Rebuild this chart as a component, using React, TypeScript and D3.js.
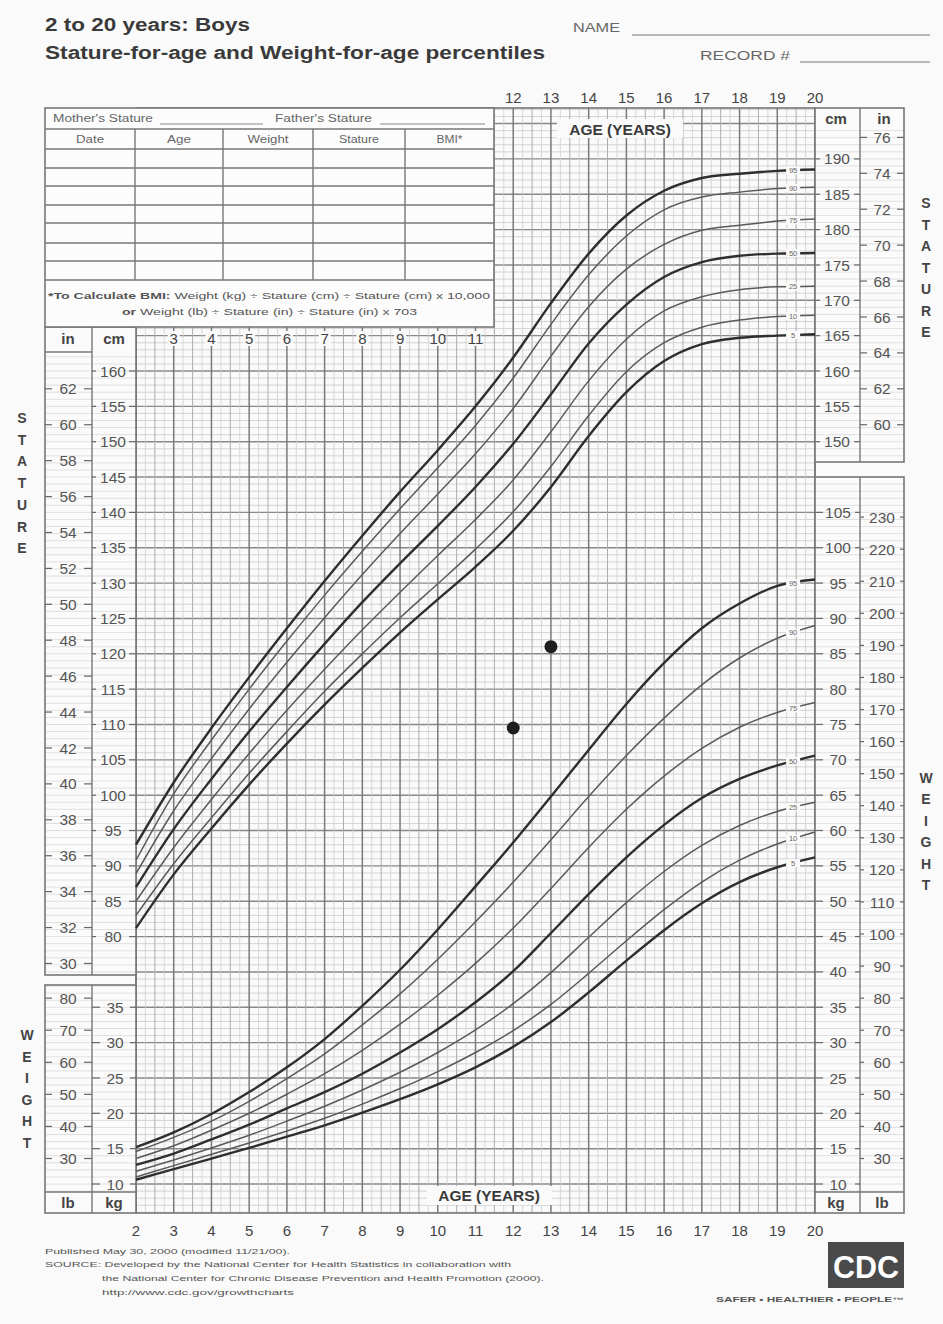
import React from "react";
import * as d3 from "d3";

// ---------- data ----------
const ages = [2, 3, 4, 5, 6, 7, 8, 9, 10, 11, 12, 13, 14, 15, 16, 17, 18, 19, 20];

const statureP5 = [81.2, 88.8, 95.3, 101.5, 107.3, 112.8, 118.0, 123.0, 127.7, 132.3, 137.4, 143.6, 150.8, 157.0, 161.4, 163.8, 164.7, 165.0, 165.2];
const statureP10 = [83.0, 90.3, 96.8, 103.1, 109.0, 114.7, 120.0, 125.1, 129.9, 134.8, 140.1, 146.5, 153.7, 159.9, 164.0, 166.2, 167.2, 167.7, 167.9];
const statureP25 = [85.0, 92.6, 99.4, 105.9, 112.0, 117.8, 123.4, 128.7, 133.9, 139.0, 144.6, 151.4, 158.6, 164.5, 168.5, 170.5, 171.5, 171.9, 172.0];
const statureP50 = [87.0, 95.2, 102.3, 109.0, 115.3, 121.4, 127.3, 132.8, 138.1, 143.6, 149.7, 156.7, 163.9, 169.4, 173.3, 175.4, 176.3, 176.6, 176.7];
const statureP75 = [88.9, 97.8, 105.2, 112.2, 118.8, 125.1, 131.2, 137.0, 142.6, 148.3, 154.7, 162.1, 169.1, 174.4, 177.9, 179.9, 180.6, 181.2, 181.5];
const statureP90 = [90.8, 100.2, 107.8, 115.0, 121.8, 128.3, 134.5, 140.5, 146.3, 152.3, 159.0, 166.6, 173.6, 179.1, 182.8, 184.6, 185.3, 185.8, 186.0];
const statureP95 = [93.0, 101.8, 109.5, 116.7, 123.6, 130.3, 136.7, 142.9, 148.8, 155.0, 161.9, 169.6, 176.6, 182.0, 185.5, 187.3, 187.9, 188.3, 188.5];

const weightP5 = [10.6, 12.1, 13.6, 15.1, 16.7, 18.3, 20.1, 22.0, 24.1, 26.5, 29.4, 32.9, 37.1, 41.6, 45.9, 49.7, 52.7, 54.8, 56.2];
const weightP10 = [11.0, 12.6, 14.2, 15.8, 17.5, 19.3, 21.3, 23.5, 25.9, 28.6, 31.7, 35.4, 39.8, 44.4, 48.8, 52.7, 55.8, 58.1, 59.8];
const weightP25 = [11.8, 13.4, 15.1, 16.9, 18.9, 21.0, 23.3, 25.8, 28.6, 31.8, 35.5, 39.9, 44.9, 49.8, 54.2, 57.9, 60.7, 62.7, 64.0];
const weightP50 = [12.7, 14.3, 16.3, 18.4, 20.7, 23.0, 25.6, 28.6, 31.9, 35.7, 40.1, 45.5, 51.0, 56.2, 60.8, 64.6, 67.3, 69.2, 70.6];
const weightP75 = [13.6, 15.4, 17.6, 20.0, 22.7, 25.6, 28.9, 32.6, 36.7, 41.2, 46.2, 51.8, 57.6, 63.0, 67.7, 71.6, 74.6, 76.7, 78.1];
const weightP90 = [14.6, 16.6, 18.9, 21.7, 24.9, 28.4, 32.5, 36.9, 41.8, 47.1, 52.7, 58.7, 64.8, 70.6, 75.9, 80.6, 84.4, 87.2, 89.0];
const weightP95 = [15.2, 17.3, 19.9, 23.0, 26.5, 30.5, 35.2, 40.3, 46.0, 52.1, 58.3, 64.8, 71.4, 77.9, 83.7, 88.6, 92.1, 94.6, 95.5];

const boldPercentiles = ["95", "50", "5"];

const measurementAges = [12, 13];
const measurementWeights = [74.5, 86.0];

const topAgeLabels = [12, 13, 14, 15, 16, 17, 18, 19, 20];
const upperAgeLabels = [3, 4, 5, 6, 7, 8, 9, 10, 11];
const bottomAgeLabels = [2, 3, 4, 5, 6, 7, 8, 9, 10, 11, 12, 13, 14, 15, 16, 17, 18, 19, 20];

const leftCmTicks = [80, 85, 90, 95, 100, 105, 110, 115, 120, 125, 130, 135, 140, 145, 150, 155, 160];
const leftInTicks = [30, 32, 34, 36, 38, 40, 42, 44, 46, 48, 50, 52, 54, 56, 58, 60, 62];
const rightCmTicks = [150, 155, 160, 165, 170, 175, 180, 185, 190];
const rightInTicks = [60, 62, 64, 66, 68, 70, 72, 74, 76];
const leftKgTicks = [10, 15, 20, 25, 30, 35];
const leftLbTicks = [30, 40, 50, 60, 70, 80];
const rightKgTicks = [10, 15, 20, 25, 30, 35, 40, 45, 50, 55, 60, 65, 70, 75, 80, 85, 90, 95, 100, 105];
const rightLbTicks = [30, 40, 50, 60, 70, 80, 90, 100, 110, 120, 130, 140, 150, 160, 170, 180, 190, 200, 210, 220, 230];

const tableColumns = ["Date", "Age", "Weight", "Stature", "BMI*"];

// ---------- layout ----------
const W = 943;
const H = 1324;
const FONT = "'Liberation Sans', Arial, Helvetica, sans-serif";
const GRIDX0 = 136;
const GRIDX1 = 815;
const TOP = 108;
const BOTTOM = 1213;

const x = d3.scaleLinear().domain([2, 20]).range([GRIDX0, GRIDX1]);
const yCm = d3.scaleLinear().domain([80, 160]).range([371 + 80 * 7.07, 371]);
const yKg = d3.scaleLinear().domain([10, 105]).range([1184, 1184 - 95 * 7.07]);
const inToCm = (v: number) => v * 2.54;
const lbToKg = (v: number) => v / 2.20462;

type Series = { name: string; values: number[] };
const statureSeries: Series[] = [
  { name: "95", values: statureP95 },
  { name: "90", values: statureP90 },
  { name: "75", values: statureP75 },
  { name: "50", values: statureP50 },
  { name: "25", values: statureP25 },
  { name: "10", values: statureP10 },
  { name: "5", values: statureP5 },
];
const weightSeries: Series[] = [
  { name: "95", values: weightP95 },
  { name: "90", values: weightP90 },
  { name: "75", values: weightP75 },
  { name: "50", values: weightP50 },
  { name: "25", values: weightP25 },
  { name: "10", values: weightP10 },
  { name: "5", values: weightP5 },
];

function interpAt(values: number[], age: number) {
  const i = Math.min(ages.length - 2, Math.max(0, Math.floor(age - ages[0])));
  const t = age - ages[i];
  return values[i] + (values[i + 1] - values[i]) * t;
}

function Curves({ series, y }: { series: Series[]; y: d3.ScaleLinear<number, number> }) {
  const line = d3
    .line<[number, number]>()
    .x((d) => x(d[0]))
    .y((d) => y(d[1]))
    .curve(d3.curveMonotoneX);
  const labelAge = 19.42;
  return (
    <g>
      {series.map((s) => {
        const bold = boldPercentiles.includes(s.name);
        const pts = ages.map((a, i) => [a, s.values[i]] as [number, number]);
        return (
          <path
            key={s.name}
            d={line(pts) || ""}
            fill="none"
            stroke={bold ? "#2e2e2e" : "#5a5a5a"}
            strokeWidth={bold ? 2.4 : 1.5}
          />
        );
      })}
      {series.map((s) => {
        const yy = y(interpAt(s.values, labelAge));
        const xx = x(labelAge);
        return (
          <g key={"l" + s.name}>
            <rect x={xx - 7} y={yy - 4} width={14} height={8} fill="#fafafa" />
            <text x={xx} y={yy + 2.6} fontSize={7.5} textAnchor="middle" fill="#666" fontFamily={FONT}>
              {s.name}
            </text>
          </g>
        );
      })}
    </g>
  );
}

function Grid() {
  const items: JSX.Element[] = [];
  const cmTop = yCm.invert(TOP);
  const cmBot = yCm.invert(BOTTOM);
  for (let c = Math.ceil(cmBot); c <= Math.floor(cmTop); c++) {
    const yy = yCm(c);
    const major = c % 5 === 0;
    items.push(
      <line key={"h" + c} x1={GRIDX0} x2={GRIDX1} y1={yy} y2={yy} stroke={major ? "#888" : "#cacaca"} strokeWidth={major ? 1.4 : 0.8} />
    );
  }
  for (let q = 0; q <= 18 * 4; q++) {
    const a = 2 + q / 4;
    const xx = x(a);
    const major = q % 4 === 0;
    const half = q % 2 === 0;
    items.push(
      <line
        key={"v" + q}
        x1={xx}
        x2={xx}
        y1={TOP}
        y2={BOTTOM}
        stroke={major ? "#7a7a7a" : half ? "#adadad" : "#cfcfcf"}
        strokeWidth={major ? 1.5 : half ? 1 : 0.8}
      />
    );
  }
  return <g>{items}</g>;
}

function ColumnLines({ x0, x1, y0, y1 }: { x0: number; x1: number; y0: number; y1: number }) {
  const items: JSX.Element[] = [];
  for (let c = Math.ceil(yCm.invert(y1)); c <= Math.floor(yCm.invert(y0)); c++) {
    const yy = yCm(c);
    items.push(<line key={c} x1={x0} x2={x1} y1={yy} y2={yy} stroke="#d9d9d9" strokeWidth={0.8} />);
  }
  return <g>{items}</g>;
}

function TickLabel({ cx, yy, text, left, right, size = 15.5 }: { cx: number; yy: number; text: string; left: [number, number] | null; right: [number, number] | null; size?: number }) {
  return (
    <g>
      {left && <line x1={left[0]} x2={left[1]} y1={yy} y2={yy} stroke="#666" strokeWidth={1.2} />}
      {right && <line x1={right[0]} x2={right[1]} y1={yy} y2={yy} stroke="#666" strokeWidth={1.2} />}
      <text x={cx} y={yy + size * 0.36} fontSize={size} textAnchor="middle" fill="#555" fontFamily={FONT}>
        {text}
      </text>
    </g>
  );
}

function VerticalWord({ word, cx, y0, step }: { word: string; cx: number; y0: number; step: number }) {
  return (
    <g>
      {word.split("").map((ch, i) => (
        <text key={i} x={cx} y={y0 + i * step + 5} fontSize={14} fontWeight="bold" textAnchor="middle" fill="#444" fontFamily={FONT}>
          {ch}
        </text>
      ))}
    </g>
  );
}

export default function App() {
  const tableX = [45, 135, 223, 313, 405, 494];
  const tableRows = [129, 149, 168, 186, 205, 223, 243, 261, 280];
  const headerWidths = [28, 24, 41, 40, 26];
  return (
    <svg width={W} height={H} style={{ position: "absolute", left: 0, top: 0, background: "#fff" }} fontFamily={FONT}>
      <rect x={0} y={0} width={W} height={H} fill="#fafafa" />

      {/* header */}
      <text x={45} y={31} fontSize={18} fontWeight="bold" fill="#3a3a3a" textLength={205} lengthAdjust="spacingAndGlyphs">
        2 to 20 years: Boys
      </text>
      <text x={45} y={59} fontSize={18} fontWeight="bold" fill="#3a3a3a" textLength={500} lengthAdjust="spacingAndGlyphs">
        Stature-for-age and Weight-for-age percentiles
      </text>
      <text x={573} y={32} fontSize={12} fill="#666" textLength={47} lengthAdjust="spacingAndGlyphs">NAME</text>
      <line x1={632} x2={930} y1={35} y2={35} stroke="#777" strokeWidth={1.2} />
      <text x={700} y={60} fontSize={12} fill="#666" textLength={90} lengthAdjust="spacingAndGlyphs">RECORD #</text>
      <line x1={800} x2={930} y1={62} y2={62} stroke="#777" strokeWidth={1.2} />

      {/* grid */}
      <Grid />
      <rect x={GRIDX0} y={TOP} width={GRIDX1 - GRIDX0} height={BOTTOM - TOP} fill="none" stroke="#777" strokeWidth={1.6} />

      {/* left stature column */}
      <rect x={45} y={327} width={91} height={648} fill="#fbfbfb" />
      <ColumnLines x0={45} x1={136} y0={352} y1={975} />
      <rect x={45} y={327} width={91} height={648} fill="none" stroke="#777" strokeWidth={1.6} />
      <line x1={92} x2={92} y1={327} y2={975} stroke="#777" strokeWidth={1.4} />
      <line x1={45} x2={92} y1={352} y2={352} stroke="#777" strokeWidth={1.4} />
      <text x={68} y={344} fontSize={15} fontWeight="bold" textAnchor="middle" fill="#444">in</text>
      <text x={114} y={344} fontSize={15} fontWeight="bold" textAnchor="middle" fill="#444">cm</text>
      {leftCmTicks.map((v) => (
        <TickLabel key={"lc" + v} cx={113} yy={yCm(v)} text={String(v)} left={[92, 96]} right={[129, 136]} />
      ))}
      {leftInTicks.map((v) => (
        <TickLabel key={"li" + v} cx={68} yy={yCm(inToCm(v))} text={String(v)} left={[45, 52]} right={[84, 92]} />
      ))}

      {/* left weight column */}
      <rect x={45} y={985} width={91} height={228} fill="#fbfbfb" />
      <ColumnLines x0={45} x1={136} y0={985} y1={1192} />
      <rect x={45} y={985} width={91} height={228} fill="none" stroke="#777" strokeWidth={1.6} />
      <line x1={92} x2={92} y1={985} y2={1213} stroke="#777" strokeWidth={1.4} />
      <line x1={45} x2={136} y1={1192} y2={1192} stroke="#777" strokeWidth={1.4} />
      <text x={68} y={1208} fontSize={15} fontWeight="bold" textAnchor="middle" fill="#444">lb</text>
      <text x={114} y={1208} fontSize={15} fontWeight="bold" textAnchor="middle" fill="#444">kg</text>
      {leftKgTicks.map((v) => (
        <TickLabel key={"lk" + v} cx={115} yy={yKg(v)} text={String(v)} left={[92, 100]} right={[130, 136]} />
      ))}
      {leftLbTicks.map((v) => (
        <TickLabel key={"ll" + v} cx={68} yy={yKg(lbToKg(v))} text={String(v)} left={[45, 52]} right={[84, 92]} />
      ))}

      {/* right stature column */}
      <rect x={815} y={108} width={89} height={354} fill="#fbfbfb" />
      <ColumnLines x0={815} x1={904} y0={128} y1={462} />
      <rect x={815} y={108} width={89} height={354} fill="none" stroke="#777" strokeWidth={1.6} />
      <line x1={860} x2={860} y1={108} y2={462} stroke="#777" strokeWidth={1.4} />
      <text x={836} y={124} fontSize={15} fontWeight="bold" textAnchor="middle" fill="#444">cm</text>
      <text x={884} y={124} fontSize={15} fontWeight="bold" textAnchor="middle" fill="#444">in</text>
      {rightCmTicks.map((v) => (
        <TickLabel key={"rc" + v} cx={837} yy={yCm(v)} text={String(v)} left={[815, 820]} right={[854, 860]} />
      ))}
      {rightInTicks.map((v) => (
        <TickLabel key={"ri" + v} cx={882} yy={yCm(inToCm(v))} text={String(v)} left={[860, 867]} right={[897, 904]} />
      ))}

      {/* right weight column */}
      <rect x={815} y={477} width={89} height={736} fill="#fbfbfb" />
      <ColumnLines x0={815} x1={904} y0={477} y1={1192} />
      <rect x={815} y={477} width={89} height={736} fill="none" stroke="#777" strokeWidth={1.6} />
      <line x1={860} x2={860} y1={477} y2={1213} stroke="#777" strokeWidth={1.4} />
      <line x1={815} x2={904} y1={1192} y2={1192} stroke="#777" strokeWidth={1.4} />
      <text x={836} y={1208} fontSize={15} fontWeight="bold" textAnchor="middle" fill="#444">kg</text>
      <text x={882} y={1208} fontSize={15} fontWeight="bold" textAnchor="middle" fill="#444">lb</text>
      {rightKgTicks.map((v) => (
        <TickLabel key={"rk" + v} cx={838} yy={yKg(v)} text={String(v)} left={[815, 823]} right={[855, 860]} />
      ))}
      {rightLbTicks.map((v) => (
        <TickLabel key={"rl" + v} cx={882} yy={yKg(lbToKg(v))} text={String(v)} left={[860, 864]} right={[900, 904]} />
      ))}

      {/* percentile curves */}
      <Curves series={statureSeries} y={yCm} />
      <Curves series={weightSeries} y={yKg} />

      {/* measurements */}
      {measurementAges.map((a, i) => (
        <circle key={"m" + i} cx={x(a)} cy={yKg(measurementWeights[i])} r={6.5} fill="#1e1e1e" />
      ))}

      {/* table */}
      <rect x={45} y={108} width={449} height={219} fill="#fcfcfc" stroke="#777" strokeWidth={1.6} />
      {tableRows.map((r) => (
        <line key={"tr" + r} x1={45} x2={494} y1={r} y2={r} stroke="#777" strokeWidth={1.4} />
      ))}
      {tableX.slice(1, 5).map((c) => (
        <line key={"tc" + c} x1={c} x2={c} y1={129} y2={280} stroke="#777" strokeWidth={1.4} />
      ))}
      <text x={53} y={122} fontSize={10} fill="#666" textLength={100} lengthAdjust="spacingAndGlyphs">Mother's Stature</text>
      <line x1={160} x2={263} y1={124} y2={124} stroke="#888" strokeWidth={1} />
      <text x={275} y={122} fontSize={10} fill="#666" textLength={97} lengthAdjust="spacingAndGlyphs">Father's Stature</text>
      <line x1={380} x2={485} y1={124} y2={124} stroke="#888" strokeWidth={1} />
      {tableColumns.map((c, i) => (
        <text
          key={c}
          x={(tableX[i] + tableX[i + 1]) / 2 - headerWidths[i] / 2}
          y={143}
          fontSize={10}
          fill="#666"
          textLength={headerWidths[i]}
          lengthAdjust="spacingAndGlyphs"
        >
          {c}
        </text>
      ))}
      <text x={48} y={299} fontSize={9.5} fill="#555" textLength={442} lengthAdjust="spacingAndGlyphs">
        <tspan fontWeight="bold">*To Calculate BMI:</tspan> Weight (kg) ÷ Stature (cm) ÷ Stature (cm) x 10,000
      </text>
      <text x={122} y={315} fontSize={9.5} fill="#555" textLength={295} lengthAdjust="spacingAndGlyphs">
        <tspan fontWeight="bold">or</tspan> Weight (lb) ÷ Stature (in) ÷ Stature (in) x 703
      </text>

      {/* age labels */}
      {topAgeLabels.map((a) => (
        <text key={"ta" + a} x={x(a)} y={103} fontSize={15} textAnchor="middle" fill="#444">{a}</text>
      ))}
      {upperAgeLabels.map((a) => (
        <g key={"ua" + a}>
          <rect x={x(a) - 6} y={331} width={12} height={15} fill="#fafafa" />
          <text x={x(a)} y={344} fontSize={15} textAnchor="middle" fill="#444">{a}</text>
        </g>
      ))}
      {bottomAgeLabels.map((a) => (
        <text key={"ba" + a} x={x(a)} y={1236} fontSize={15} textAnchor="middle" fill="#444">{a}</text>
      ))}
      <rect x={557} y={119} width={126} height={19} fill="#fafafa" />
      <text x={620} y={135} fontSize={15.5} fontWeight="bold" textAnchor="middle" fill="#3a3a3a">AGE (YEARS)</text>
      <rect x={427} y={1186} width={125} height={19} fill="#fafafa" />
      <text x={489} y={1201} fontSize={15.5} fontWeight="bold" textAnchor="middle" fill="#3a3a3a">AGE (YEARS)</text>

      {/* side words */}
      <VerticalWord word="STATURE" cx={22} y0={418} step={21.7} />
      <VerticalWord word="STATURE" cx={926} y0={203} step={21.5} />
      <VerticalWord word="WEIGHT" cx={27} y0={1035} step={21.6} />
      <VerticalWord word="WEIGHT" cx={926} y0={778} step={21.4} />

      {/* footer */}
      <g fontSize={8} fill="#555">
        <text x={45} y={1254} textLength={245} lengthAdjust="spacingAndGlyphs">Published May 30, 2000 (modified 11/21/00).</text>
        <text x={45} y={1267} textLength={466} lengthAdjust="spacingAndGlyphs">SOURCE: Developed by the National Center for Health Statistics in collaboration with</text>
        <text x={102} y={1281} textLength={442} lengthAdjust="spacingAndGlyphs">the National Center for Chronic Disease Prevention and Health Promotion (2000).</text>
        <text x={102} y={1295} textLength={192} lengthAdjust="spacingAndGlyphs">http://www.cdc.gov/growthcharts</text>
      </g>
      <rect x={828} y={1242} width={76} height={46} fill="#4a4a4a" />
      <text x={866} y={1278} fontSize={32} fontWeight="bold" textAnchor="middle" fill="#fff" textLength={66} lengthAdjust="spacingAndGlyphs">
        CDC
      </text>
      <text x={716} y={1302} fontSize={6.5} fontWeight="bold" fill="#555" textLength={188} lengthAdjust="spacingAndGlyphs">
        SAFER • HEALTHIER • PEOPLE™
      </text>
    </svg>
  );
}
